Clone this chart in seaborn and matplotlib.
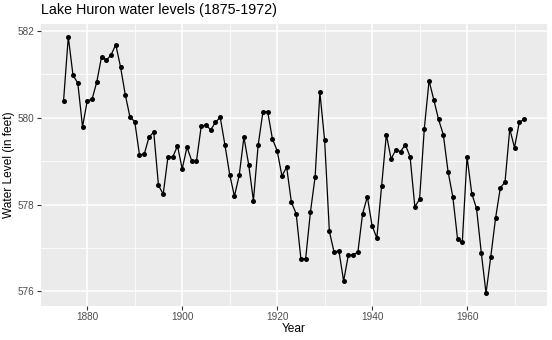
import matplotlib
matplotlib.use("Agg")
import matplotlib.pyplot as plt
import seaborn as sns
import pandas as pd
import numpy as np
from matplotlib.ticker import MultipleLocator

years = list(range(1875, 1973))
level = [580.38, 581.86, 580.97, 580.80, 579.79, 580.39, 580.42, 580.82, 581.40, 581.32,
         581.44, 581.68, 581.17, 580.53, 580.01, 579.91, 579.14, 579.16, 579.55, 579.67,
         578.44, 578.24, 579.10, 579.09, 579.35, 578.82, 579.32, 579.01, 579.00, 579.80,
         579.83, 579.72, 579.89, 580.01, 579.37, 578.69, 578.19, 578.67, 579.55, 578.92,
         578.09, 579.37, 580.13, 580.14, 579.51, 579.24, 578.66, 578.86, 578.05, 577.79,
         576.75, 576.75, 577.82, 578.64, 580.58, 579.48, 577.38, 576.90, 576.94, 576.24,
         576.84, 576.85, 576.90, 577.79, 578.18, 577.51, 577.23, 578.42, 579.61, 579.05,
         579.26, 579.22, 579.38, 579.10, 577.95, 578.12, 579.75, 580.85, 580.41, 579.96,
         579.61, 578.76, 578.18, 577.21, 577.13, 579.10, 578.25, 577.91, 576.89, 575.96,
         576.80, 577.68, 578.38, 578.52, 579.74, 579.31, 579.89, 579.96]
x_ticks = [1880, 1900, 1920, 1940, 1960]
y_ticks = [576, 578, 580, 582]

df = pd.DataFrame({"Year": years, "Level": level})

sns.set_theme(style="darkgrid")
plt.rcParams['font.family'] = ['Liberation Sans', 'DejaVu Sans']

fig = plt.figure(figsize=(5.52, 3.40), dpi=100)
ax = fig.add_axes([0.0734, 0.100, 0.9176, 0.8294])
ax.set_facecolor("#EBEBEB")

sns.lineplot(data=df, x="Year", y="Level", ax=ax, color="black", linewidth=0.9)
sns.scatterplot(data=df, x="Year", y="Level", ax=ax, color="black", s=13,
                edgecolor="black", linewidth=0, zorder=3)

xr = max(years) - min(years)
ax.set_xlim(min(years) - 0.05 * xr, max(years) + 0.05 * xr)
yr = max(level) - min(level)
ax.set_ylim(min(level) - 0.05 * yr, max(level) + 0.05 * yr)

ax.set_xticks(x_ticks)
ax.set_yticks(y_ticks)
ax.xaxis.set_minor_locator(MultipleLocator(10))
ax.yaxis.set_minor_locator(MultipleLocator(1))
ax.grid(which="major", color="white", linewidth=1.1)
ax.grid(which="minor", color="white", linewidth=0.55)
ax.set_axisbelow(True)
for s in ax.spines.values():
    s.set_visible(False)

ax.tick_params(axis="both", which="major", length=3, width=0.8, color="#333333",
               labelsize=7.2, labelcolor="#4D4D4D", pad=1.5, bottom=True, left=True)
ax.tick_params(axis="both", which="minor", length=0)

ax.set_xlabel("Year", fontsize=8.6, color="black")
ax.set_ylabel("Water Level (in feet)", fontsize=8.6, color="black")
ax.xaxis.set_label_coords(0.5, -0.06)
ax.yaxis.set_label_coords(-0.05, 0.5)
fig.text(0.0734, 0.970, "Lake Huron water levels (1875-1972)", fontsize=10.3,
         ha="left", va="center", color="black")

fig.savefig("out.png", dpi=100)
